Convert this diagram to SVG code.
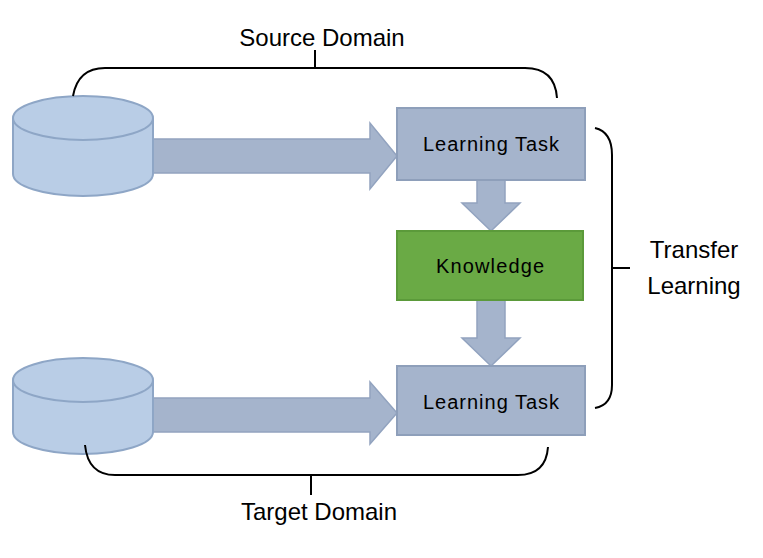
<svg xmlns="http://www.w3.org/2000/svg" width="763" height="558" viewBox="0 0 763 558">
<style>
.cyl{fill:#b9cde6;stroke:#8ea6c6;stroke-width:2}
.task{fill:#a5b4cc;stroke:#8e9fba;stroke-width:2}
.arr{fill:#a5b4cc;stroke:#92a3bf;stroke-width:1.5}
.br{fill:none;stroke:#000;stroke-width:2}
text{font-family:"Liberation Sans",Calibri,sans-serif;fill:#000}
.lbl{font-size:20px}
.big{font-size:24px}
</style>
<rect width="763" height="558" fill="#fff"/>
<g id="connectors">
<path class="arr" d="M153,139 H370 V123 L397,156 L370,189 V173 H153 Z"/>
<path class="arr" d="M153,398 H370 V382 L397,413 L370,444 V432 H153 Z"/>
<path class="arr" d="M477,180 H505 V203 H520 L491,231 L462,203 H477 Z"/>
<path class="arr" d="M477,300 H505 V338 H520 L491,366 L462,338 H477 Z"/>
</g>
<g id="cyl1"><path class="cyl" d="M13,118 V174 A70,22 0 0 0 153,174 V118 A70,22 0 0 0 13,118 Z"/><path class="cyl" d="M13,118 A70,22 0 0 0 153,118"/></g>
<g id="cyl2"><path class="cyl" d="M13,380 V432 A70,22 0 0 0 153,432 V380 A70,22 0 0 0 13,380 Z"/><path class="cyl" d="M13,380 A70,22 0 0 0 153,380"/></g>
<g id="task1"><rect class="task" x="397" y="108" width="188" height="72"/><text class="lbl" x="491" y="151" text-anchor="middle" textLength="136">Learning Task</text></g>
<g id="knowledge"><rect x="397" y="231" width="186" height="69" fill="#6aaa45" stroke="#5b9a3a" stroke-width="2"/><text class="lbl" x="490" y="273" text-anchor="middle" textLength="108">Knowledge</text></g>
<g id="task2"><rect class="task" x="397" y="366" width="188" height="69"/><text class="lbl" x="491" y="409" text-anchor="middle" textLength="136">Learning Task</text></g>
<g id="braces">
<path class="br" d="M73,96 Q78,68 105,68 H525 Q555,68 557,98 M315,68 V50"/>
<path class="br" d="M85,445 Q88,475 115,475 H518 Q546,475 548,447 M311,475 V495"/>
<path class="br" d="M595,128 Q612,132 612,155 V385 Q612,405 595,408 M612,268 H630"/>
</g>
<text class="big" x="322" y="46" text-anchor="middle">Source Domain</text>
<text class="big" x="319" y="520" text-anchor="middle">Target Domain</text>
<text class="big" x="694" y="258" text-anchor="middle">Transfer</text>
<text class="big" x="694" y="294" text-anchor="middle">Learning</text>
</svg>
